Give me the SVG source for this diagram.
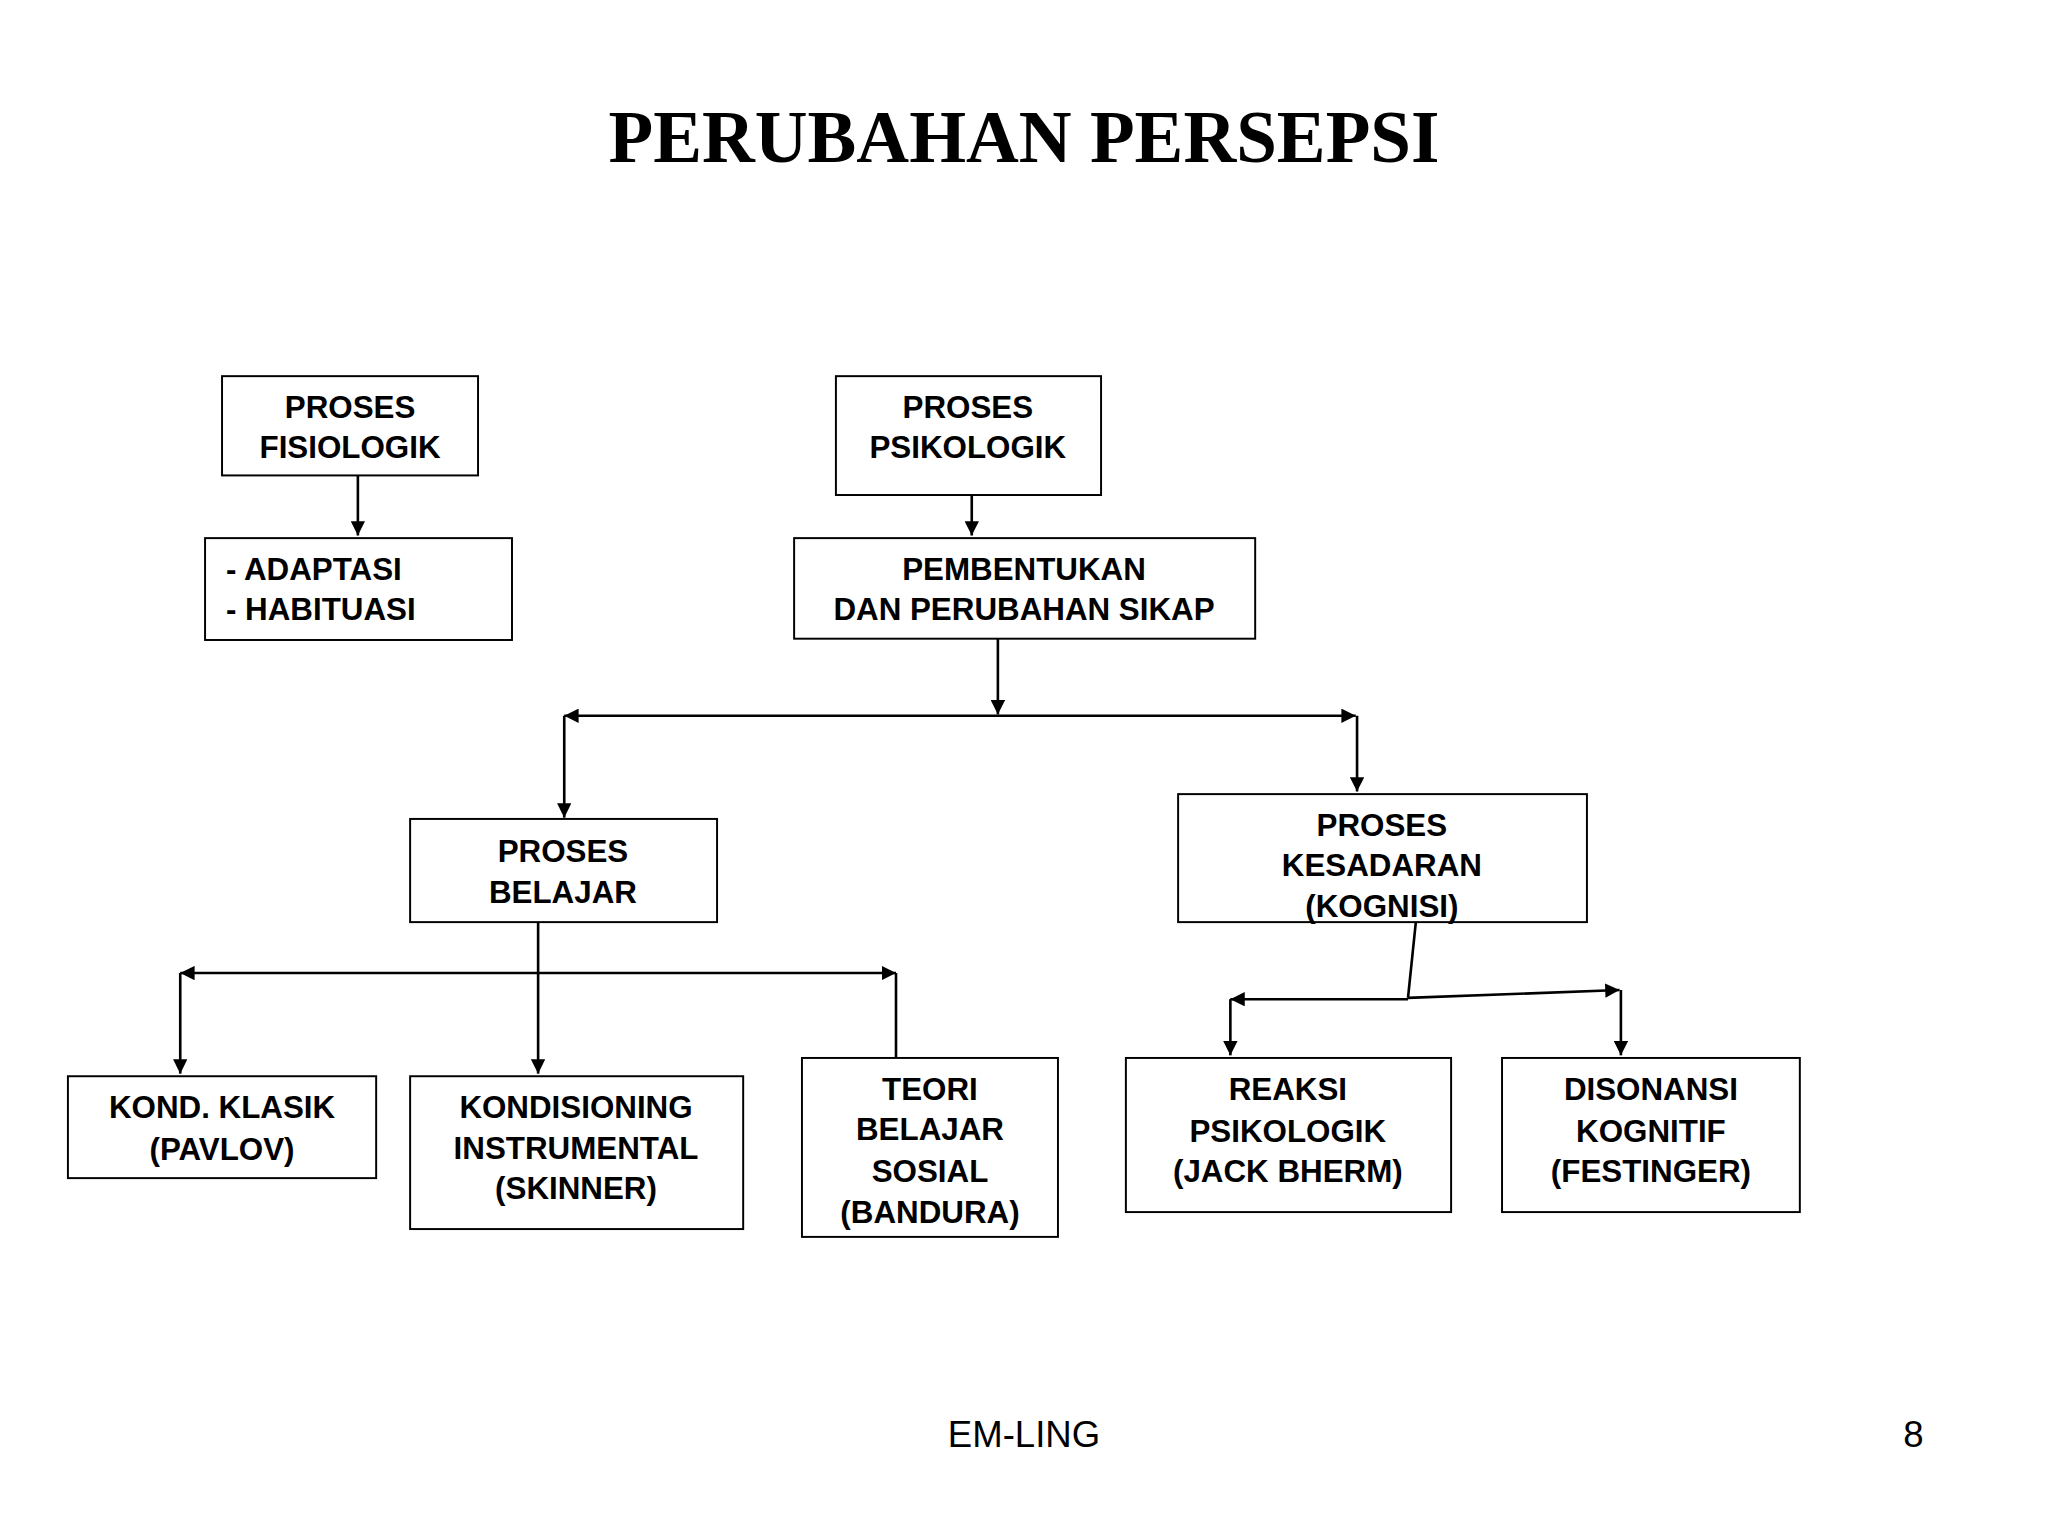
<svg xmlns="http://www.w3.org/2000/svg" width="2048" height="1536" viewBox="0 0 2048 1536">
<style>
.b{fill:#fff;stroke:#000;stroke-width:1.5}
.t{font-family:"Liberation Sans",Arial,sans-serif;font-weight:bold;font-size:24px;text-anchor:middle;dominant-baseline:central}
.l{fill:none;stroke:#000;stroke-width:2}
</style>
<defs><marker id="a" viewBox="0 0 10 10" refX="10" refY="5" markerWidth="11" markerHeight="11" markerUnits="userSpaceOnUse" orient="auto-start-reverse"><path d="M0,0L10,5L0,10z"/></marker></defs>
<rect width="2048" height="1536" fill="#fff"/>
<g transform="scale(1.30612)">
<text x="784" y="124" style="font-family:'Liberation Serif',serif;font-weight:bold;font-size:56px;text-anchor:middle">PERUBAHAN PERSEPSI</text>
<g id="connectors">
<path class="l" d="M274,364V410" marker-end="url(#a)"/>
<path class="l" d="M744,379V410" marker-end="url(#a)"/>
<path class="l" d="M764,489V547" marker-end="url(#a)"/>
<path class="l" d="M432,548H1038" marker-start="url(#a)" marker-end="url(#a)"/>
<path class="l" d="M432,548V626" marker-end="url(#a)"/>
<path class="l" d="M1039,548V606" marker-end="url(#a)"/>
<path class="l" d="M412,706V822" marker-end="url(#a)"/>
<path class="l" d="M138,745H686" marker-start="url(#a)" marker-end="url(#a)"/>
<path class="l" d="M138,745V822" marker-end="url(#a)"/>
<path class="l" d="M686,745V820" marker-end="url(#a)"/>
<path class="l" d="M1084,706L1078,764"/>
<path class="l" d="M942,765H1078" marker-start="url(#a)"/>
<path class="l" d="M1078,764L1240,758" marker-end="url(#a)"/>
<path class="l" d="M942,765V808" marker-end="url(#a)"/>
<path class="l" d="M1241,758V808" marker-end="url(#a)"/>
</g>
<g id="n1"><rect class="b" x="170" y="288" width="196" height="76"/><text class="t" x="268" y="312">PROSES</text><text class="t" x="268" y="343">FISIOLOGIK</text></g>
<g id="n2"><rect class="b" x="157" y="412" width="235" height="78"/><text class="t" x="173" y="436" style="text-anchor:start">- ADAPTASI</text><text class="t" x="173" y="467" style="text-anchor:start">- HABITUASI</text></g>
<g id="n3"><rect class="b" x="640" y="288" width="203" height="91"/><text class="t" x="741" y="312">PROSES</text><text class="t" x="741" y="343">PSIKOLOGIK</text></g>
<g id="n4"><rect class="b" x="608" y="412" width="353" height="77"/><text class="t" x="784" y="436">PEMBENTUKAN</text><text class="t" x="784" y="467">DAN PERUBAHAN SIKAP</text></g>
<g id="n5"><rect class="b" x="314" y="627" width="235" height="79"/><text class="t" x="431" y="652">PROSES</text><text class="t" x="431" y="683">BELAJAR</text></g>
<g id="n6"><rect class="b" x="902" y="608" width="313" height="98"/><text class="t" x="1058" y="632">PROSES</text><text class="t" x="1058" y="663">KESADARAN</text><text class="t" x="1058" y="694">(KOGNISI)</text></g>
<g id="n7"><rect class="b" x="52" y="824" width="236" height="78"/><text class="t" x="170" y="848">KOND. KLASIK</text><text class="t" x="170" y="880">(PAVLOV)</text></g>
<g id="n8"><rect class="b" x="314" y="824" width="255" height="117"/><text class="t" x="441" y="848">KONDISIONING</text><text class="t" x="441" y="879">INSTRUMENTAL</text><text class="t" x="441" y="910">(SKINNER)</text></g>
<g id="n9"><rect class="b" x="614" y="810" width="196" height="137"/><text class="t" x="712" y="834">TEORI</text><text class="t" x="712" y="865">BELAJAR</text><text class="t" x="712" y="897">SOSIAL</text><text class="t" x="712" y="928">(BANDURA)</text></g>
<g id="n10"><rect class="b" x="862" y="810" width="249" height="118"/><text class="t" x="986" y="834">REAKSI</text><text class="t" x="986" y="866">PSIKOLOGIK</text><text class="t" x="986" y="897">(JACK BHERM)</text></g>
<g id="n11"><rect class="b" x="1150" y="810" width="228" height="118"/><text class="t" x="1264" y="834">DISONANSI</text><text class="t" x="1264" y="866">KOGNITIF</text><text class="t" x="1264" y="897">(FESTINGER)</text></g>
<text x="784" y="1098" style="font-family:'Liberation Sans',sans-serif;font-size:28px;text-anchor:middle;dominant-baseline:central">EM-LING</text>
<text x="1465" y="1098" style="font-family:'Liberation Sans',sans-serif;font-size:28px;text-anchor:middle;dominant-baseline:central">8</text>
</g>
</svg>
